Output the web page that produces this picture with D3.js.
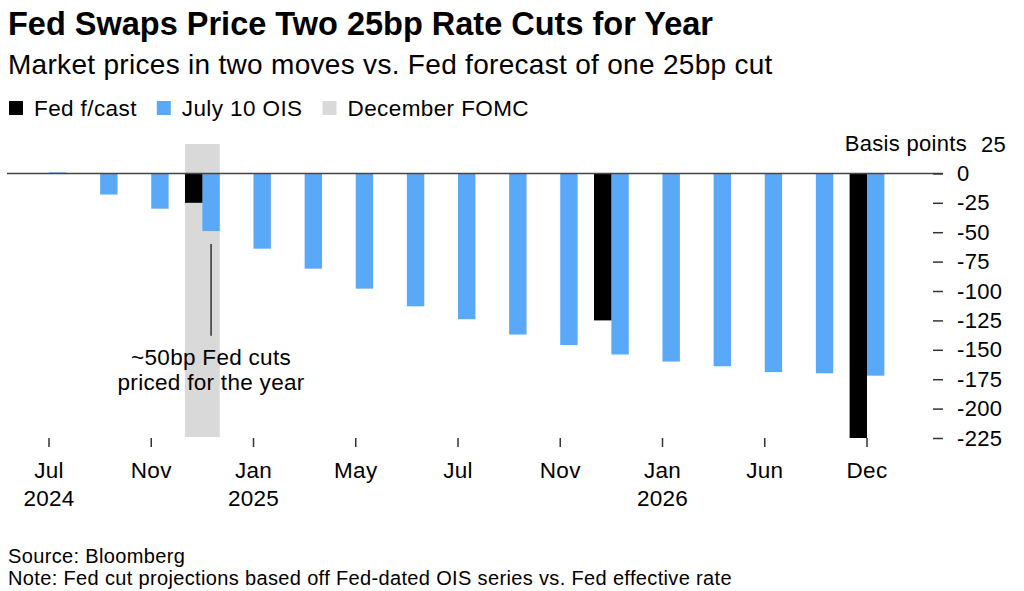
<!DOCTYPE html>
<html>

<head>
	<meta charset="utf-8">
	<title>Fed Swaps Price Two 25bp Rate Cuts for Year</title>
	<script type="text/javascript" src="https://cdn.jsdelivr.net/npm/d3@7/dist/d3.min.js"></script>
	<style>
		body { margin: 0; background: #fff; }
	</style>
</head>

<body>
	<div id="chart"></div>

	<script type="text/javascript">
		// FOMC meeting dates along the x axis
		var categories = ["Jul 2024", "Sep 2024", "Nov 2024", "Dec 2024", "Jan 2025", "Mar 2025",
			"May 2025", "Jun 2025", "Jul 2025", "Sep 2025", "Nov 2025", "Dec 2025",
			"Jan 2026", "Mar 2026", "Jun 2026", "Sep 2026", "Dec 2026"];
		// July 10 OIS, cumulative bp
		var oisValues = [0.8, -18, -30, -49, -64, -81, -98, -113, -124, -137, -146, -154, -160, -164, -169, -170, -172];
		// Fed forecast (dot plot), cumulative bp
		var fedDates = ["Dec 2024", "Dec 2025", "Dec 2026"];
		var fedValues = [-25, -125, -225];
		var fomcDate = "Dec 2024";

		var xTickCats = ["Jul 2024", "Nov 2024", "Jan 2025", "May 2025", "Jul 2025", "Nov 2025", "Jan 2026", "Jun 2026", "Dec 2026"];
		var xTickMonths = ["Jul", "Nov", "Jan", "May", "Jul", "Nov", "Jan", "Jun", "Dec"];
		var xTickYears = ["2024", "", "2025", "", "", "", "2026", "", ""];
		var yTicks = [25, 0, -25, -50, -75, -100, -125, -150, -175, -200, -225];

		var legendNames = ["Fed f/cast", "July 10 OIS", "December FOMC"];
		var legendColors = ["#000000", "#5aa9f8", "#d9d9d9"];

		var font = "'Liberation Sans', Arial, sans-serif";
		var width = 1024, height = 591;
		var svg = d3.select("#chart").append("svg")
			.attr("width", width).attr("height", height)
			.style("font-family", font);

		// titles
		svg.append("text").attr("x", 8).attr("y", 35)
			.style("font-size", "32.5px").style("font-weight", "bold")
			.text("Fed Swaps Price Two 25bp Rate Cuts for Year");
		svg.append("text").attr("x", 8).attr("y", 74)
			.style("font-size", "28px").style("letter-spacing", "0.3px")
			.text("Market prices in two moves vs. Fed forecast of one 25bp cut");

		// legend
		var lx = 9;
		legendNames.forEach(function (name, i) {
			svg.append("rect").attr("x", lx).attr("y", 101).attr("width", 14).attr("height", 14)
				.attr("fill", legendColors[i]);
			var t = svg.append("text").attr("x", lx + 25).attr("y", 116)
				.style("font-size", "22.5px").style("letter-spacing", "0.4px")
				.text(name);
			lx += 25 + t.node().getComputedTextLength() + 20;
		});

		// scales
		var firstCenter = 49, step = 51.125;
		var x = d3.scaleBand().domain(categories)
			.range([firstCenter - step / 2, firstCenter + step * (categories.length - 0.5)]);
		var xSub = d3.scaleBand().domain(["fed", "ois"]).range([0, x.bandwidth()]).paddingOuter(0.47);
		var y = d3.scaleLinear().domain([25, -225]).range([144, 438]);

		// December FOMC shading
		svg.append("rect")
			.attr("x", x(fomcDate) + xSub("fed"))
			.attr("width", xSub.bandwidth() * 2)
			.attr("y", y(25))
			.attr("height", y(-225) - y(25) - 1)
			.attr("fill", legendColors[2]);

		// bars
		svg.selectAll("rect.ois")
			.data(oisValues)
			.enter().append("rect")
			.attr("class", "ois")
			.attr("x", function (d, i) { return x(categories[i]) + xSub("ois"); })
			.attr("width", xSub.bandwidth())
			.attr("y", function (d) { return y(Math.max(0, d)); })
			.attr("height", function (d) { return Math.abs(y(d) - y(0)); })
			.attr("fill", legendColors[1]);

		svg.selectAll("rect.fed")
			.data(fedValues)
			.enter().append("rect")
			.attr("class", "fed")
			.attr("x", function (d, i) { return x(fedDates[i]) + xSub("fed"); })
			.attr("width", xSub.bandwidth())
			.attr("y", function (d) { return y(Math.max(0, d)); })
			.attr("height", function (d) { return Math.abs(y(d) - y(0)); })
			.attr("fill", legendColors[0]);

		// zero line
		svg.append("line")
			.attr("x1", 7).attr("x2", 943)
			.attr("y1", y(0)).attr("y2", y(0))
			.attr("stroke", "#444").attr("stroke-width", 1.5);

		// x axis
		var gx = svg.append("g")
			.attr("transform", "translate(0," + y(-225) + ")")
			.call(d3.axisBottom(x).tickValues(xTickCats).tickSize(9)
				.tickFormat(function (d) { return xTickMonths[xTickCats.indexOf(d)]; }));
		gx.select(".domain").remove();
		gx.attr("font-family", font).attr("font-size", 22.5);
		gx.selectAll(".tick line").attr("stroke", "#333").attr("stroke-width", 1.5);
		gx.selectAll(".tick text").attr("y", 40).attr("dy", null).attr("fill", "#000")
			.style("letter-spacing", "0.3px");
		gx.selectAll(".tick").append("text")
			.attr("y", 68).attr("fill", "#000")
			.style("letter-spacing", "0.3px")
			.text(function (d) { return xTickYears[xTickCats.indexOf(d)]; });

		// y axis
		var gy = svg.append("g")
			.attr("transform", "translate(933,0)")
			.call(d3.axisRight(y).tickValues(yTicks).tickSize(10).tickPadding(14)
				.tickFormat(function (d) { return String(d); }));
		gy.select(".domain").remove();
		gy.attr("font-family", font).attr("font-size", 22);
		gy.selectAll(".tick line").attr("stroke", "#333").attr("stroke-width", 1.5);
		gy.selectAll(".tick text").attr("fill", "#000").style("letter-spacing", "0.3px");
		gy.selectAll(".tick").filter(function (d) { return d === 25; })
			.each(function () {
				d3.select(this).select("line").remove();
				d3.select(this).select("text").attr("x", 48);
			});
		svg.append("text")
			.attr("x", 967).attr("y", y(25)).attr("dy", "0.32em")
			.attr("text-anchor", "end")
			.style("font-size", "22px").style("letter-spacing", "0.3px")
			.text("Basis points");

		// annotation
		var ax = x(fomcDate) + xSub("ois") + xSub.bandwidth() / 2;
		svg.append("line")
			.attr("x1", ax).attr("x2", ax)
			.attr("y1", y(-60)).attr("y2", y(-138))
			.attr("stroke", "#333").attr("stroke-width", 1.5);
		var note = svg.append("text")
			.attr("text-anchor", "middle")
			.style("font-size", "22.5px").style("letter-spacing", "0.3px");
		note.append("tspan").attr("x", ax).attr("y", y(-138) + 29).text("~50bp Fed cuts");
		note.append("tspan").attr("x", ax).attr("y", y(-138) + 54).text("priced for the year");

		// footer
		svg.append("text").attr("x", 8).attr("y", 563)
			.style("font-size", "20px").style("letter-spacing", "0.35px")
			.text("Source: Bloomberg");
		svg.append("text").attr("x", 8).attr("y", 585)
			.style("font-size", "20px").style("letter-spacing", "0.35px")
			.text("Note: Fed cut projections based off Fed-dated OIS series vs. Fed effective rate");
	</script>

</body>

</html>
